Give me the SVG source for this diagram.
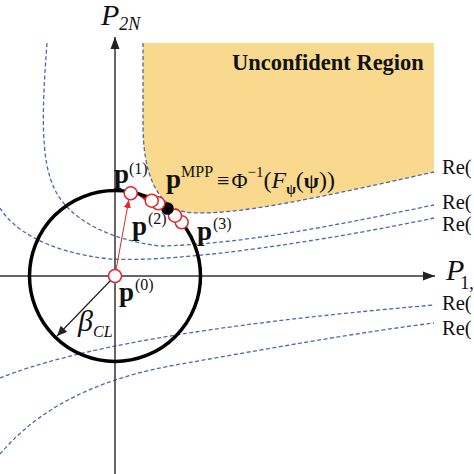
<svg xmlns="http://www.w3.org/2000/svg" width="474" height="474" viewBox="0 0 474 474">
<defs>
<style>
text{font-family:'Liberation Serif','DejaVu Serif',serif;fill:#111}
.b{font-weight:bold}
.i{font-style:italic}
.dash{fill:none;stroke:#4C6BA6;stroke-width:1.3;stroke-dasharray:4 2.5}
.axis{stroke:#333;stroke-width:1.5;fill:none}
.pt{fill:#fff;stroke:#E0282E;stroke-width:1.5}
.re{font-size:20.5px}
.pl{font-size:27px;font-weight:bold}
.sup{font-size:16px;font-weight:normal}
</style>
<marker id="ah" viewBox="0 0 10 10" refX="10" refY="5" markerWidth="10" markerHeight="10" markerUnits="userSpaceOnUse" orient="auto"><path d="M0,0.5 L10,5 L0,9.5 Z" fill="#222"/></marker>
<marker id="ahBig" viewBox="0 0 12 10" refX="12" refY="5" markerWidth="13" markerHeight="10" markerUnits="userSpaceOnUse" orient="auto"><path d="M0,0.5 L12,5 L0,9.5 Z" fill="#222"/></marker>
<marker id="ahRed" viewBox="0 0 10 10" refX="10" refY="5" markerWidth="8" markerHeight="8" markerUnits="userSpaceOnUse" orient="auto"><path d="M0,0.5 L10,5 L0,9.5 Z" fill="#E0282E"/></marker>
</defs>
<rect width="474" height="474" fill="#fff"/>

<g id="unconfident-region">
<path d="M143,43 L143,125 C143,170 155,205 185,212 C230,218 330,195 434,172 L434,43 Z" fill="#F9D98E"/>
<text class="b" x="232" y="70" font-size="22.5">Unconfident Region</text>
</g>

<g id="limit-state-curves">
<path class="dash" d="M143,43 L143,125 C143,170 155,205 185,212 C230,218 330,195 434,172"/>
<path class="dash" d="M47,43 C42,110 40,160 55,190 C70,220 110,240 160,246 C250,244 350,222 434,205"/>
<path class="dash" d="M0,208 C12,228 45,252 110,259 C180,263 330,240 434,218"/>
<path class="dash" d="M0,378 C70,350 200,325 434,305"/>
<path class="dash" d="M0,454 C25,425 70,385 170,366 C260,350 360,332 434,323"/>
</g>

<g id="re-labels">
<text class="re" x="442" y="174">Re(</text>
<text class="re" x="442" y="209">Re(</text>
<text class="re" x="442" y="231">Re(</text>
<text class="re" x="442" y="310">Re(</text>
<text class="re" x="442" y="335">Re(</text>
</g>

<g id="connectors">
<line class="axis" x1="115" y1="474" x2="115" y2="37" marker-end="url(#ahBig)"/>
<line class="axis" x1="0" y1="276" x2="435" y2="276" marker-end="url(#ahBig)"/>
<line x1="111" y1="280" x2="57" y2="336" stroke="#222" stroke-width="1.2" marker-end="url(#ah)"/>
<line x1="116" y1="270" x2="128.8" y2="200" stroke="#E0282E" stroke-width="1" marker-end="url(#ahRed)"/>
<path d="M139,196 L147,194.5 L145.5,201 Z" fill="#E0282E"/>
</g>

<g id="axis-labels">
<text class="i" x="101" y="25" font-size="30">P<tspan font-size="18" dy="5">2N</tspan></text>
<text class="i" x="446" y="280" font-size="30">P<tspan font-size="18" dx="-4" dy="9" font-style="normal">1,</tspan></text>
</g>

<g id="beta-circle">
<circle cx="115" cy="276" r="85.5" fill="none" stroke="#000" stroke-width="3.5"/>
<text class="i" x="78" y="331" font-size="30">β<tspan font-size="16" dy="6">CL</tspan></text>
</g>

<g id="p0">
<circle class="pt" cx="115" cy="276" r="6.5"/>
<text class="pl" x="119" y="301">p<tspan class="sup" dx="1" dy="-11">(0)</tspan></text>
</g>

<g id="iteration-points">
<circle class="pt" cx="181.7" cy="222.3" r="6.5"/>
<circle class="pt" cx="175" cy="215.7" r="6.5"/>
<circle cx="167.5" cy="208.5" r="6.3" fill="#000"/>
<circle class="pt" cx="158.3" cy="203.3" r="6.5"/>
<circle class="pt" cx="151.7" cy="200.7" r="6.5"/>
<circle class="pt" cx="130.7" cy="193.3" r="6.5"/>
</g>

<g id="p1">
<text class="pl" x="114" y="183">p<tspan class="sup" dx="0" dy="-9">(1)</tspan></text>
</g>
<g id="p2">
<text class="pl" x="132" y="235">p<tspan class="sup" dx="1" dy="-11">(2)</tspan></text>
</g>
<g id="p3">
<text class="pl" x="197" y="240">p<tspan class="sup" dx="1" dy="-11">(3)</tspan></text>
</g>

<g id="pMPP">
<text x="166" y="188"><tspan class="b" font-size="27">p</tspan><tspan font-size="16" dy="-11">MPP</tspan><tspan font-size="22" dx="4" dy="11">≡</tspan><tspan font-size="22" dx="2">Φ</tspan><tspan font-size="15" dy="-11">−1</tspan><tspan font-size="24" dy="11">(</tspan><tspan class="i" font-size="24">F</tspan><tspan class="b" font-size="14" dy="6">ψ</tspan><tspan font-size="24" dy="-6">(</tspan><tspan class="b" font-size="22">ψ</tspan><tspan font-size="24">))</tspan></text>
</g>
</svg>
